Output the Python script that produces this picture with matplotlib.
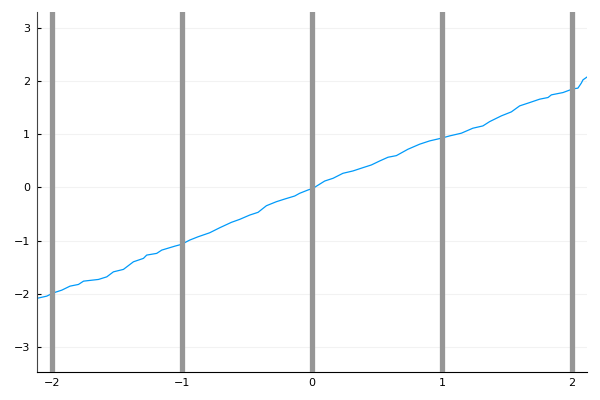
import matplotlib
matplotlib.use("Agg")
import matplotlib.pyplot as plt

# line
x_vals = [-2.118, -2.041, -1.989, -1.925, -1.862, -1.797, -1.758, -1.643, -1.579, -1.528,
          -1.451, -1.374, -1.297, -1.272, -1.195, -1.156, -1.054, -1.005, -0.941, -0.877,
          -0.787, -0.710, -0.620, -0.556, -0.479, -0.415, -0.351, -0.274, -0.210, -0.133,
          -0.095, -0.031, 0.008, 0.098, 0.162, 0.238, 0.315, 0.392, 0.457, 0.521,
          0.585, 0.649, 0.738, 0.828, 0.905, 0.995, 1.059, 1.149, 1.238, 1.315,
          1.367, 1.457, 1.534, 1.598, 1.675, 1.752, 1.816, 1.842, 1.931, 2.008,
          2.046, 2.072, 2.085, 2.115]
y_vals = [-2.085, -2.043, -1.981, -1.930, -1.855, -1.823, -1.761, -1.729, -1.680, -1.586,
          -1.540, -1.397, -1.333, -1.271, -1.239, -1.177, -1.102, -1.070, -0.989, -0.927,
          -0.851, -0.757, -0.655, -0.599, -0.518, -0.467, -0.343, -0.267, -0.217, -0.160,
          -0.109, -0.047, -0.015, 0.122, 0.173, 0.267, 0.311, 0.373, 0.424, 0.499,
          0.569, 0.599, 0.719, 0.814, 0.876, 0.927, 0.970, 1.021, 1.115, 1.158,
          1.239, 1.347, 1.422, 1.535, 1.597, 1.661, 1.692, 1.742, 1.785, 1.855,
          1.868, 1.962, 2.024, 2.075]
vline_pos = [-2, -1, 0, 1, 2]
x_ticks = [-2, -1, 0, 1, 2]
y_ticks = [-3, -2, -1, 0, 1, 2, 3]

fig = plt.figure(figsize=(6, 4), dpi=100)
ax = fig.add_axes([37 / 600, 1 - 371.5 / 400, 550 / 600, 359.5 / 400])

ax.plot(x_vals, y_vals, color="#009AFA", lw=0.9, zorder=2)
for v in vline_pos:
    ax.axvline(v, color="#969696", lw=3.8, zorder=3)

ax.set_xlim(-2.116, 2.116)
ax.set_ylim(-3.46, 3.30)
ax.set_xticks(x_ticks)
ax.set_yticks(y_ticks)
ax.set_xticklabels(["\u22122", "\u22121", "0", "1", "2"])
ax.set_yticklabels(["\u22123", "\u22122", "\u22121", "0", "1", "2", "3"])
ax.grid(True, color="black", alpha=0.05, lw=0.8)
ax.set_axisbelow(True)

for s in ["top", "right"]:
    ax.spines[s].set_visible(False)
ax.spines["left"].set_color("#444444")
ax.spines["bottom"].set_color("black")
ax.tick_params(direction="in", length=3, width=0.8, labelsize=8, pad=5)

fig.savefig("out.png", dpi=100)
